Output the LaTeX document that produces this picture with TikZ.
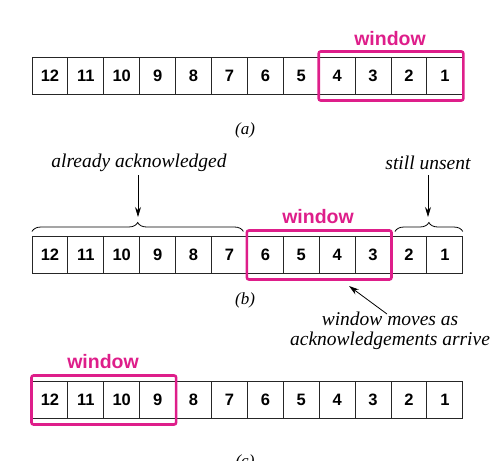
\documentclass[tikz,border=0pt]{standalone}
\usepackage{fontspec}
\setmainfont{Liberation Serif}
\setsansfont{Liberation Sans}
\usetikzlibrary{fit,decorations.pathreplacing,arrows.meta,calc}
\definecolor{winred}{RGB}{222,30,138}
\tikzset{
  cell/.style={draw=black!85, line width=0.9pt, minimum width=35.9pt, minimum height=37pt,
    inner sep=0pt, outer sep=0pt, font=\sffamily\bfseries\fontsize{16.5}{16.5}\selectfont},
  winbox/.style={draw=winred, line width=2.6pt, rounded corners=2pt, inner xsep=0.5pt, inner ysep=6pt},
  winlabel/.style={text=winred, font=\sffamily\bfseries\fontsize{19.5}{19.5}\selectfont, inner sep=0pt},
  itlabel/.style={font=\itshape\fontsize{19.5}{19.5}\selectfont, inner sep=0pt, align=center},
  caplabel/.style={font=\itshape\fontsize{17}{17}\selectfont, inner sep=0pt},
  bracestyle/.style={decorate, decoration={brace, amplitude=9pt}, line width=0.8pt},
  pointer/.style={-{Stealth[length=10pt,width=6pt]}, line width=0.8pt}
}
\begin{document}
\begin{tikzpicture}[x=1pt,y=-1pt]
\useasboundingbox (0,0) rectangle (504,461);
\clip (0,0) rectangle (504,461);
% rows
\foreach \r/\y in {a/76,b/255,c/400}{
  \foreach \k in {0,...,11}{
    \pgfmathtruncatemacro{\lab}{12-\k}
    \node[cell] (\r\k) at ({32+35.9*(\k+0.5)},\y) {\lab};
  }
}
% (a)
\node[winbox, fit=(a8)(a11)] (wa) {};
\node[winlabel] (wla) at (390,39) {window};
\node[caplabel] (capa) at (245,130) {(a)};
% (b)
\node[winbox, fit=(b6)(b9)] (wb) {};
\node[winlabel] (wlb) at (318,217) {window};
\coordinate (bl1) at ($(b0.north west)+(0,-5)$);
\coordinate (bl2) at ($(b5.north east)+(-4,-5)$);
\coordinate (br1) at ($(b10.north west)+(4,-5)$);
\coordinate (br2) at ($(b11.north east)+(0,-5)$);
\draw[bracestyle] (bl1) -- (bl2);
\draw[bracestyle] (br1) -- (br2);
\node[itlabel] (ack) at (139,163) {already acknowledged};
\node[itlabel] (uns) at (428,163) {still unsent};
\coordinate (topL) at (138,175);
\coordinate (topR) at (428,175);
\coordinate (tipL) at (138,217);
\coordinate (tipR) at (428,217);
\draw[pointer] (topL) -- (tipL);
\draw[pointer] (topR) -- (tipR);
\node[caplabel] (capb) at (245,300) {(b)};
\node[itlabel] (moves) at (390,331) {window moves as\\acknowledgements arrive};
\coordinate (mv) at (387,314);
\coordinate (mvtip) at (349,286);
\draw[pointer] (mv) -- (mvtip);
% (c)
\node[winbox, fit=(c0)(c3)] (wc) {};
\node[winlabel] (wlc) at (103,362) {window};
\node[caplabel] (capc) at (245,462) {(c)};
\end{tikzpicture}
\end{document}
